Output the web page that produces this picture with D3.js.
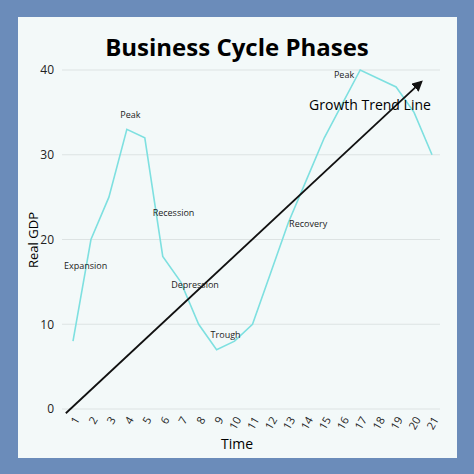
<!DOCTYPE html><html><head><meta charset="utf-8">
<script src="https://cdn.jsdelivr.net/npm/d3@7"></script>
<style>body{margin:0}svg{display:block}</style></head><body>
<svg id="c" width="474" height="474"></svg>
<script>
const periods = d3.range(1,22);
const gdp = [8,20,25,33,32,18,15,10,7,8,10,16,22,27,32,36,40,39,38,35,30];
const yTicks = [0,10,20,30,40];
const phaseLabels = [
 {t:"Expansion",x:1.7,y:16.5},{t:"Peak",x:4.2,y:34.3},{t:"Recession",x:6.6,y:22.8},
 {t:"Depression",x:7.8,y:14.3},{t:"Trough",x:9.5,y:8.4},{t:"Recovery",x:14.1,y:21.5},{t:"Peak",x:16.1,y:39.0}
];
const trend = [{x:0.6,y:-0.5},{x:20.4,y:38.6}];

const svg=d3.select("#c");
svg.append("rect").attr("width",474).attr("height",474).attr("fill","#6b8cba");
svg.append("rect").attr("x",18).attr("y",17).attr("width",439).attr("height",441).attr("fill","#f3f9f9");
const x=d3.scaleLinear().domain([1,21]).range([73,432]);
const y=d3.scaleLinear().domain([0,40]).range([409,70]);
const font="'Open Sans', sans-serif";
svg.append("text").attr("x",237).attr("y",56).attr("text-anchor","middle")
 .attr("font-family",font).attr("font-weight","bold").attr("font-size",24).text("Business Cycle Phases");
const ya=svg.append("g").attr("transform","translate(60,0)")
 .call(d3.axisLeft(y).tickValues(yTicks).tickSize(0).tickPadding(6));
ya.select(".domain").remove();
ya.selectAll("text").attr("font-family",font).attr("font-size",12).attr("fill","#222");
svg.append("g").selectAll("line").data(yTicks).join("line")
 .attr("x1",62).attr("x2",440).attr("y1",d=>y(d)).attr("y2",d=>y(d))
 .attr("stroke","#dde3e3").attr("stroke-width",1);
const xa=svg.append("g").attr("transform","translate(0,412)")
 .call(d3.axisBottom(x).tickValues(periods).tickFormat(d3.format("d")).tickSize(0));
xa.select(".domain").remove();
xa.selectAll("text").attr("font-family",font).attr("font-size",11).attr("fill","#222")
 .attr("text-anchor","end").attr("dx","-0.3em").attr("dy","0.6em").attr("transform","rotate(-60)");
svg.append("text").attr("x",237).attr("y",449).attr("text-anchor","middle").attr("font-family",font).attr("font-size",14).text("Time");
svg.append("text").attr("transform","translate(38,240) rotate(-90)").attr("text-anchor","middle").attr("font-family",font).attr("font-size",13).text("Real GDP");
const data=periods.map((p,i)=>({x:p,y:gdp[i]}));
svg.append("path").datum(data).attr("fill","none").attr("stroke","#7ee0e0").attr("stroke-width",1.6)
 .attr("d",d3.line().x(d=>x(d.x)).y(d=>y(d.y)));
svg.append("defs").append("marker").attr("id","ar").attr("viewBox","0 0 10 10").attr("refX",8).attr("refY",5)
 .attr("markerWidth",6).attr("markerHeight",6).attr("orient","auto")
 .append("path").attr("d","M0,0L10,5L0,10z").attr("fill","#111");
svg.append("line").attr("x1",x(trend[0].x)).attr("y1",y(trend[0].y)).attr("x2",x(trend[1].x)).attr("y2",y(trend[1].y))
 .attr("stroke","#111").attr("stroke-width",1.8).attr("marker-end","url(#ar)");
svg.append("g").selectAll("text").data(phaseLabels).join("text")
 .attr("x",d=>x(d.x)).attr("y",d=>y(d.y)).attr("text-anchor","middle")
 .attr("font-family",font).attr("font-size",9).attr("fill","#222").text(d=>d.t);
svg.append("text").attr("x",370).attr("y",110).attr("text-anchor","middle").attr("font-family",font).attr("font-size",14).text("Growth Trend Line");
</script></body></html>
